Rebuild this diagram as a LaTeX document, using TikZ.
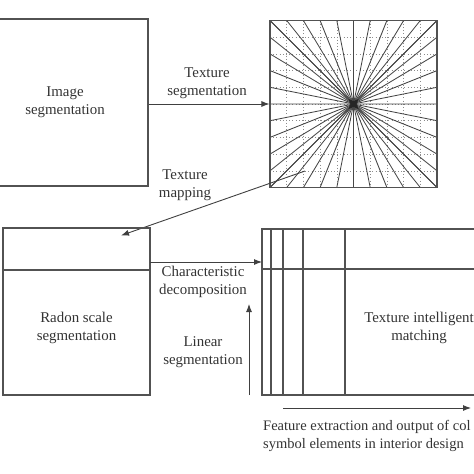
\documentclass[tikz,border=0pt]{standalone}
\usepackage{fontspec}
\setmainfont{Liberation Serif}
\usetikzlibrary{arrows.meta,calc}
\begin{document}
\begin{tikzpicture}[x=1pt,y=-1pt,
  boxline/.style={draw=black!68,line width=1.1pt},
  lbl/.style={align=center,font=\fontsize{14.9}{18}\selectfont,text=black!80,inner sep=0pt},
  arr/.style={draw=black!75,line width=0.9pt,-{Latex[length=8pt,width=6pt]}},
  ray/.style={draw=black!72,line width=0.85pt},
  dots/.style={draw=black!45,line width=0.6pt,dash pattern=on 0.8pt off 2.4pt}]
\useasboundingbox (0,0) rectangle (474,474);
\clip (0,0) rectangle (474,474);
% image segmentation box
\node[boxline,rectangle,minimum width=166pt,minimum height=167pt,inner sep=0pt] (img) at (65,102.5) {};
\node[lbl] (imgt) at (65,102) {Image\\segmentation};
% radial square
\node[boxline,rectangle,minimum width=167pt,minimum height=167pt,inner sep=0pt] (rad) at (353.5,104) {};
\foreach \i in {1,...,9}{
  \draw[dots] (270+\i*16.7,20.5) -- ++(0,167);
  \draw[dots] (270,20.5+\i*16.7) -- ++(167,0);
}
\foreach \i in {0,...,10}{
  \draw[ray] (rad.center) -- (270+\i*16.7,20.5);
  \draw[ray] (rad.center) -- (270+\i*16.7,187.5);
  \draw[ray] (rad.center) -- (270,20.5+\i*16.7);
  \draw[ray] (rad.center) -- (437,20.5+\i*16.7);
}
\fill[black!85] (rad.center) +(-5,-5) -- +(0,-3) -- +(5,-5) -- +(3,0) -- +(5,5) -- +(0,3) -- +(-5,5) -- +(-3,0) -- cycle;
\node[boxline,rectangle,minimum width=167pt,minimum height=167pt,inner sep=0pt] at (rad.center) {};
% texture segmentation arrow
\draw[arr] (img.east |- rad.west) -- (rad.west);
\node[lbl] (tseg) at (207,83) {Texture\\segmentation};
% texture mapping arrow
\coordinate (tmA) at (305,171);
\coordinate (tmB) at (121,235.5);
\draw[arr] (tmA) -- (tmB);
\node[lbl] (tmap) at (185,185) {Texture\\mapping};
% radon box
\node[boxline,rectangle,minimum width=147pt,minimum height=167pt,inner sep=0pt] (radon) at (76.5,311.5) {};
\draw[boxline] (3,270) -- (150,270);
\node[lbl] (radont) at (76.5,328) {Radon scale\\segmentation};
% right box
\node[boxline,rectangle,minimum width=318pt,minimum height=166pt,inner sep=0pt] (rbox) at (421,312) {};
\draw[boxline] (262,269) -- (580,269);
\foreach \x in {271,283,303,345}{\draw[boxline] (\x,229) -- (\x,395);}
\node[lbl] (rboxt) at (419,328) {Texture intelligent\\matching};
% characteristic decomposition arrow
\coordinate (cdA) at (150,262);
\coordinate (cdB) at (262,262);
\draw[arr] (cdA) -- (cdB);
\node[lbl] (cdt) at (203,282) {Characteristic\\decomposition};
% linear segmentation arrow
\coordinate (lsA) at (249,395);
\coordinate (lsB) at (249,304);
\draw[arr] (lsA) -- (lsB);
\node[lbl] (lst) at (203,352) {Linear\\segmentation};
% feature extraction arrow
\coordinate (feA) at (283,408);
\coordinate (feB) at (471,408);
\draw[arr] (feA) -- (feB);
\node[lbl,align=left,anchor=west,font=\fontsize{14.5}{18}\selectfont] (fet) at (263,436) {Feature extraction and output of col\\symbol elements in interior design};
\end{tikzpicture}
\end{document}
